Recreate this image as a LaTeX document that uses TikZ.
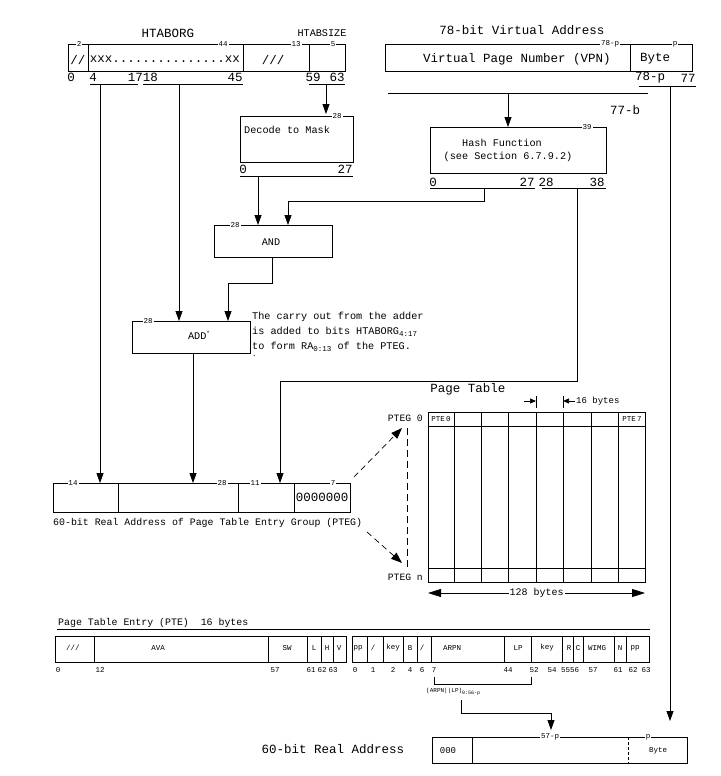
\documentclass[tikz,border=0pt]{standalone}
\usepackage{fontspec}
\setmainfont{Liberation Mono}
\usetikzlibrary{arrows.meta,calc}
\newcommand\sbs[1]{\raisebox{-2.5pt}{\fontsize{7.5}{8}\selectfont #1}}
\tikzset{
  ln/.style={line width=0.8pt},
  box/.style={draw, line width=0.8pt, inner sep=0pt, anchor=north west},
  arr/.style={line width=0.8pt, -{Triangle[length=10pt,width=7pt]}},
  darr/.style={line width=0.7pt, dashed, dash pattern=on 6pt off 4pt, -{Triangle[length=11pt,width=8pt]}},
  tl/.style={font=\fontsize{7.5}{8}\selectfont, fill=white, inner sep=1pt},
  big/.style={font=\fontsize{12.5}{14}\selectfont, inner sep=0pt},
  med/.style={font=\fontsize{10.2}{12}\selectfont, inner sep=0pt},
  sml/.style={font=\fontsize{7.5}{9}\selectfont, inner sep=0pt},
}
\begin{document}
\begin{tikzpicture}[x=1pt,y=-1pt]
\useasboundingbox[fill=white] (0,0) rectangle (720,776);

% ---------- HTABORG / HTABSIZE ----------
\node[box, minimum width=277pt, minimum height=27pt] (hta) at (68,44) {};
\draw[ln] (88,44) -- (88,71) (243,44) -- (243,71) (309,44) -- (309,71);
\node[big] (thta) at (168,33) {HTABORG};
\node[med] (thsz) at (322,33) {HTABSIZE};
\node[tl] (l2) at (79,44) {2};
\node[tl] (l44) at (223,44) {44};
\node[tl] (l13) at (296,44) {13};
\node[tl] (l5) at (333,44) {5};
\node[big] (s1) at (78,60) {//};
\node[big] (xx) at (165,59) {xxx...............xx};
\node[big] (s3) at (273,60) {///};
\node[big] (b0) at (71,77) {0};
\node[big] (b4) at (93,77) {4};
\node[big] (b1718) at (143,77) {1718};
\node[big] (b45) at (235,77) {45};
\node[big] (b59) at (313,77) {59};
\node[big] (b63) at (337,77) {63};
\draw[ln] (90,84) -- (138,84) (143,84) -- (243,84) (309,84) -- (345,84);
\coordinate (u417) at (100,84);
\coordinate (u1845) at (179,84);
\coordinate (u5963) at (326,84);

% ---------- Virtual address ----------
\node[big] (tva) at (522,30) {78-bit Virtual Address};
\node[box, minimum width=307pt, minimum height=27pt] (vpn) at (385,44) {};
\draw[ln] (630,44) -- (630,71);
\node[tl] (l78p) at (610,44) {78-p};
\node[tl] (lp) at (675,44) {p};
\node[big] (tvpn) at (517,59) {Virtual Page Number (VPN)};
\node[big] (tbyte) at (655,59) {Byte};
\node[big] (b78p) at (650,78) {78-p};
\node[big] (b77) at (688,78) {77};
\draw[ln] (639,86) -- (696,86);
\coordinate (ub) at (670,86);
\coordinate (va) at (388,93);
\coordinate (vz) at (648,93);
\draw[ln] (va) -- (vz);
\coordinate (vb) at (508,93);
\node[big] (t77b) at (625,110) {77-b};

% ---------- Decode ----------
\node[box, minimum width=113pt, minimum height=46pt] (dec) at (240,116) {};
\node[tl] (l28d) at (337,116) {28};
\node[med, anchor=west] (tdec) at (244,130) {Decode to Mask};
\node[big] (d0t) at (243,169) {0};
\node[big] (d27t) at (345,169) {27};
\draw[ln] (240,176) -- (353,176);
\coordinate (d0) at (258,176);

% ---------- Hash ----------
\node[box, minimum width=176pt, minimum height=46pt] (hash) at (430,127) {};
\node[tl] (l39) at (587,127) {39};
\node[med] (th1) at (502,143) {Hash Function};
\node[med] (th2) at (508,157) {(see Section 6.7.9.2)};
\node[big] (h0t) at (433,182) {0};
\node[big] (h27t) at (527,182) {27};
\node[big] (h28t) at (546,182) {28};
\node[big] (h38t) at (597,182) {38};
\draw[ln] (430,188) -- (535,188) (542,188) -- (606,188);
\coordinate (h027) at (484,188);
\coordinate (h2838) at (577,188);
\coordinate (hj) at (288,201);

% ---------- AND ----------
\node[box, minimum width=118pt, minimum height=32pt] (and) at (214,225) {};
\node[tl] (l28a) at (235,225) {28};
\node[med] (tand) at (271,242) {AND};
\coordinate (ao) at (272,257);
\coordinate (aj) at (228,283);

% ---------- ADD ----------
\node[box, minimum width=118pt, minimum height=32pt] (add) at (132,321) {};
\node[tl] (l28b) at (148,321) {28};
\node[med] (tadd) at (199,335) {ADD\raisebox{4pt}{\fontsize{6}{6}\selectfont*}};
\coordinate (ado) at (193,353);
\node[med, anchor=west] (c1) at (252,317) {The carry out from the adder};
\node[med, anchor=west] (c2) at (252,332) {is added to bits HTABORG\sbs{4:17}};
\node[med, anchor=west] (c3) at (252,347) {to form RA\sbs{0:13} of the PTEG.};
\node[sml, anchor=west] (c4) at (252,356) {.};
\coordinate (pj) at (280,381);

% ---------- PTEG address ----------
\node[box, minimum width=297pt, minimum height=29pt] (pteg) at (53,483) {};
\draw[ln] (118,483) -- (118,512) (238,483) -- (238,512) (294,483) -- (294,512);
\node[tl] (l14) at (73,483) {14};
\node[tl] (l28c) at (222,483) {28};
\node[tl] (l11) at (255,483) {11};
\node[tl] (l7) at (333,483) {7};
\node[big] (zeros) at (322,497) {0000000};
\node[font=\fontsize{9.9}{11}\selectfont, inner sep=0pt, anchor=west] (cap) at (53,523) {60-bit Real Address of Page Table Entry Group (PTEG)};

% ---------- connectors ----------
\draw[arr] (u417) -- (u417 |- pteg.north);
\draw[arr] (u1845) -- (u1845 |- add.north);
\draw[arr] (u5963) -- ($(u5963 |- dec.north)+(0,-2)$);
\draw[arr] (vb) -- (vb |- hash.north);
\draw[arr] (d0) -- (d0 |- and.north);
\draw[arr] (h027) |- (hj) -- (hj |- and.north);
\draw[arr] (ao) |- (aj) -- (aj |- add.north);
\draw[arr] (ado) -- (ado |- pteg.north);
\draw[arr] (h2838) |- (pj) -- (pj |- pteg.north);

% ---------- Page table ----------
\node[big] (tpt) at (468,389) {Page Table};
\node[box, minimum width=217pt, minimum height=170pt] (pt) at (428,412) {};
\draw[ln] (428,426) -- (645,426) (428,568) -- (645,568);
\foreach \x in {454,481,508,536,563,591,618} \draw[ln] (\x,412) -- (\x,582);
\node[sml] (pte0) at (441,419) {PTE\,0};
\node[sml] (pte7) at (632,419) {PTE\,7};
\node[font=\fontsize{9.7}{11}\selectfont, inner sep=0pt, anchor=east] (pg0) at (423,418) {PTEG 0};
\node[font=\fontsize{9.7}{11}\selectfont, inner sep=0pt, anchor=east] (pgn) at (423,577) {PTEG n};
\coordinate (dt) at (407,428);
\coordinate (db) at (407,568);
\draw[line width=0.8pt, dashed, dash pattern=on 7pt off 4pt] (dt) -- (db);
\coordinate (a1s) at (354,477);
\coordinate (a1e) at (402,428);
\coordinate (a2s) at (367,532);
\coordinate (a2e) at (402,563);
\draw[darr] (a1s) -- (a1e);
\draw[darr] (a2s) -- (a2e);
% 16 bytes
\draw[ln] (536,396) -- (536,408) (563,396) -- (563,408);
\coordinate (q1) at (524,401);
\coordinate (q2) at (536,401);
\coordinate (q3) at (575,401);
\coordinate (q4) at (563,401);
\draw[line width=0.7pt, -{Triangle[length=6pt,width=5pt]}] (q1) -- (q2);
\draw[line width=0.7pt, -{Triangle[length=6pt,width=5pt]}] (q3) -- (q4);
\node[font=\fontsize{9}{10}\selectfont, inner sep=0pt, anchor=west] (t16) at (576,401) {16 bytes};
% 128 bytes
\coordinate (w1) at (428,593);
\coordinate (w2) at (645,593);
\draw[line width=0.8pt, {Triangle[length=13pt,width=8pt]}-{Triangle[length=13pt,width=8pt]}] (w1) -- (w2)
  node[midway, fill=white, inner sep=1pt, font=\fontsize{10}{11}\selectfont] (t128) {128 bytes};

% ---------- PTE ----------
\node[font=\fontsize{9.9}{11}\selectfont, inner sep=0pt, anchor=west] (tpte) at (58,623) {Page Table Entry (PTE)\ \ 16 bytes};
\draw[ln] (57,629) -- (650,629);
\node[box, minimum width=291pt, minimum height=26pt] (pte1) at (55,636) {};
\foreach \x in {94,268,307,321,333} \draw[ln] (\x,636) -- (\x,662);
\node[box, minimum width=297pt, minimum height=26pt] (pte2) at (352,636) {};
\foreach \x in {367,383,403,417,431,504,531,562,573,583,614,626} \draw[ln] (\x,636) -- (\x,662);
\foreach \x/\t in {73/{///},158/AVA,287/SW,314/L,327/H,339/V,
  358/pp,373/{/},393/key,410/B,422/{/},452/ARPN,518/LP,547/key,569/R,578/C,597/WIMG,620/N,635/pp}
  \node[sml] at (\x,648) {\t};
\foreach \x/\t in {58/0,100/12,275/57,311/61,322/62,333/63,
  355/0,373/1,393/2,410/4,422/6,434/7,508/44,534/52,552/54,570/5556,593/57,618/61,633/62,646/63}
  \node[sml] at (\x,670) {\t};
\coordinate (k1) at (434,677);
\coordinate (k2) at (531,677);
\draw[ln] (k1) -- ++(0,7) -| (k2);
\node[font=\fontsize{6}{7}\selectfont, inner sep=0pt, anchor=west] (tarpn) at (426,692) {(ARPN||LP)\raisebox{-2pt}{\fontsize{5}{6}\selectfont 0:56-p}};
\coordinate (rp) at (461,700);
\coordinate (rj) at (551,713);

% ---------- Real address ----------
\node[big] (tra) at (333,749) {60-bit Real Address};
\node[box, minimum width=255pt, minimum height=26pt] (ra) at (432,737) {};
\draw[ln] (472,737) -- (472,763);
\draw[line width=0.8pt, dashed, dash pattern=on 3pt off 2pt] (628,737) -- (628,763);
\node[font=\fontsize{9}{10}\selectfont, inner sep=0pt] (t000) at (448,751) {000};
\node[tl] (l57p) at (550,737) {57-p};
\node[tl] (lp2) at (648,737) {p};
\node[sml] (tbyte2) at (658,751) {Byte};
\draw[arr] (rp) |- (rj) -- ($(rj |- ra.north)+(0,-7)$);
\draw[arr] (ub) -- ($(ub |- ra.north)+(0,-16)$);
\end{tikzpicture}
\end{document}
